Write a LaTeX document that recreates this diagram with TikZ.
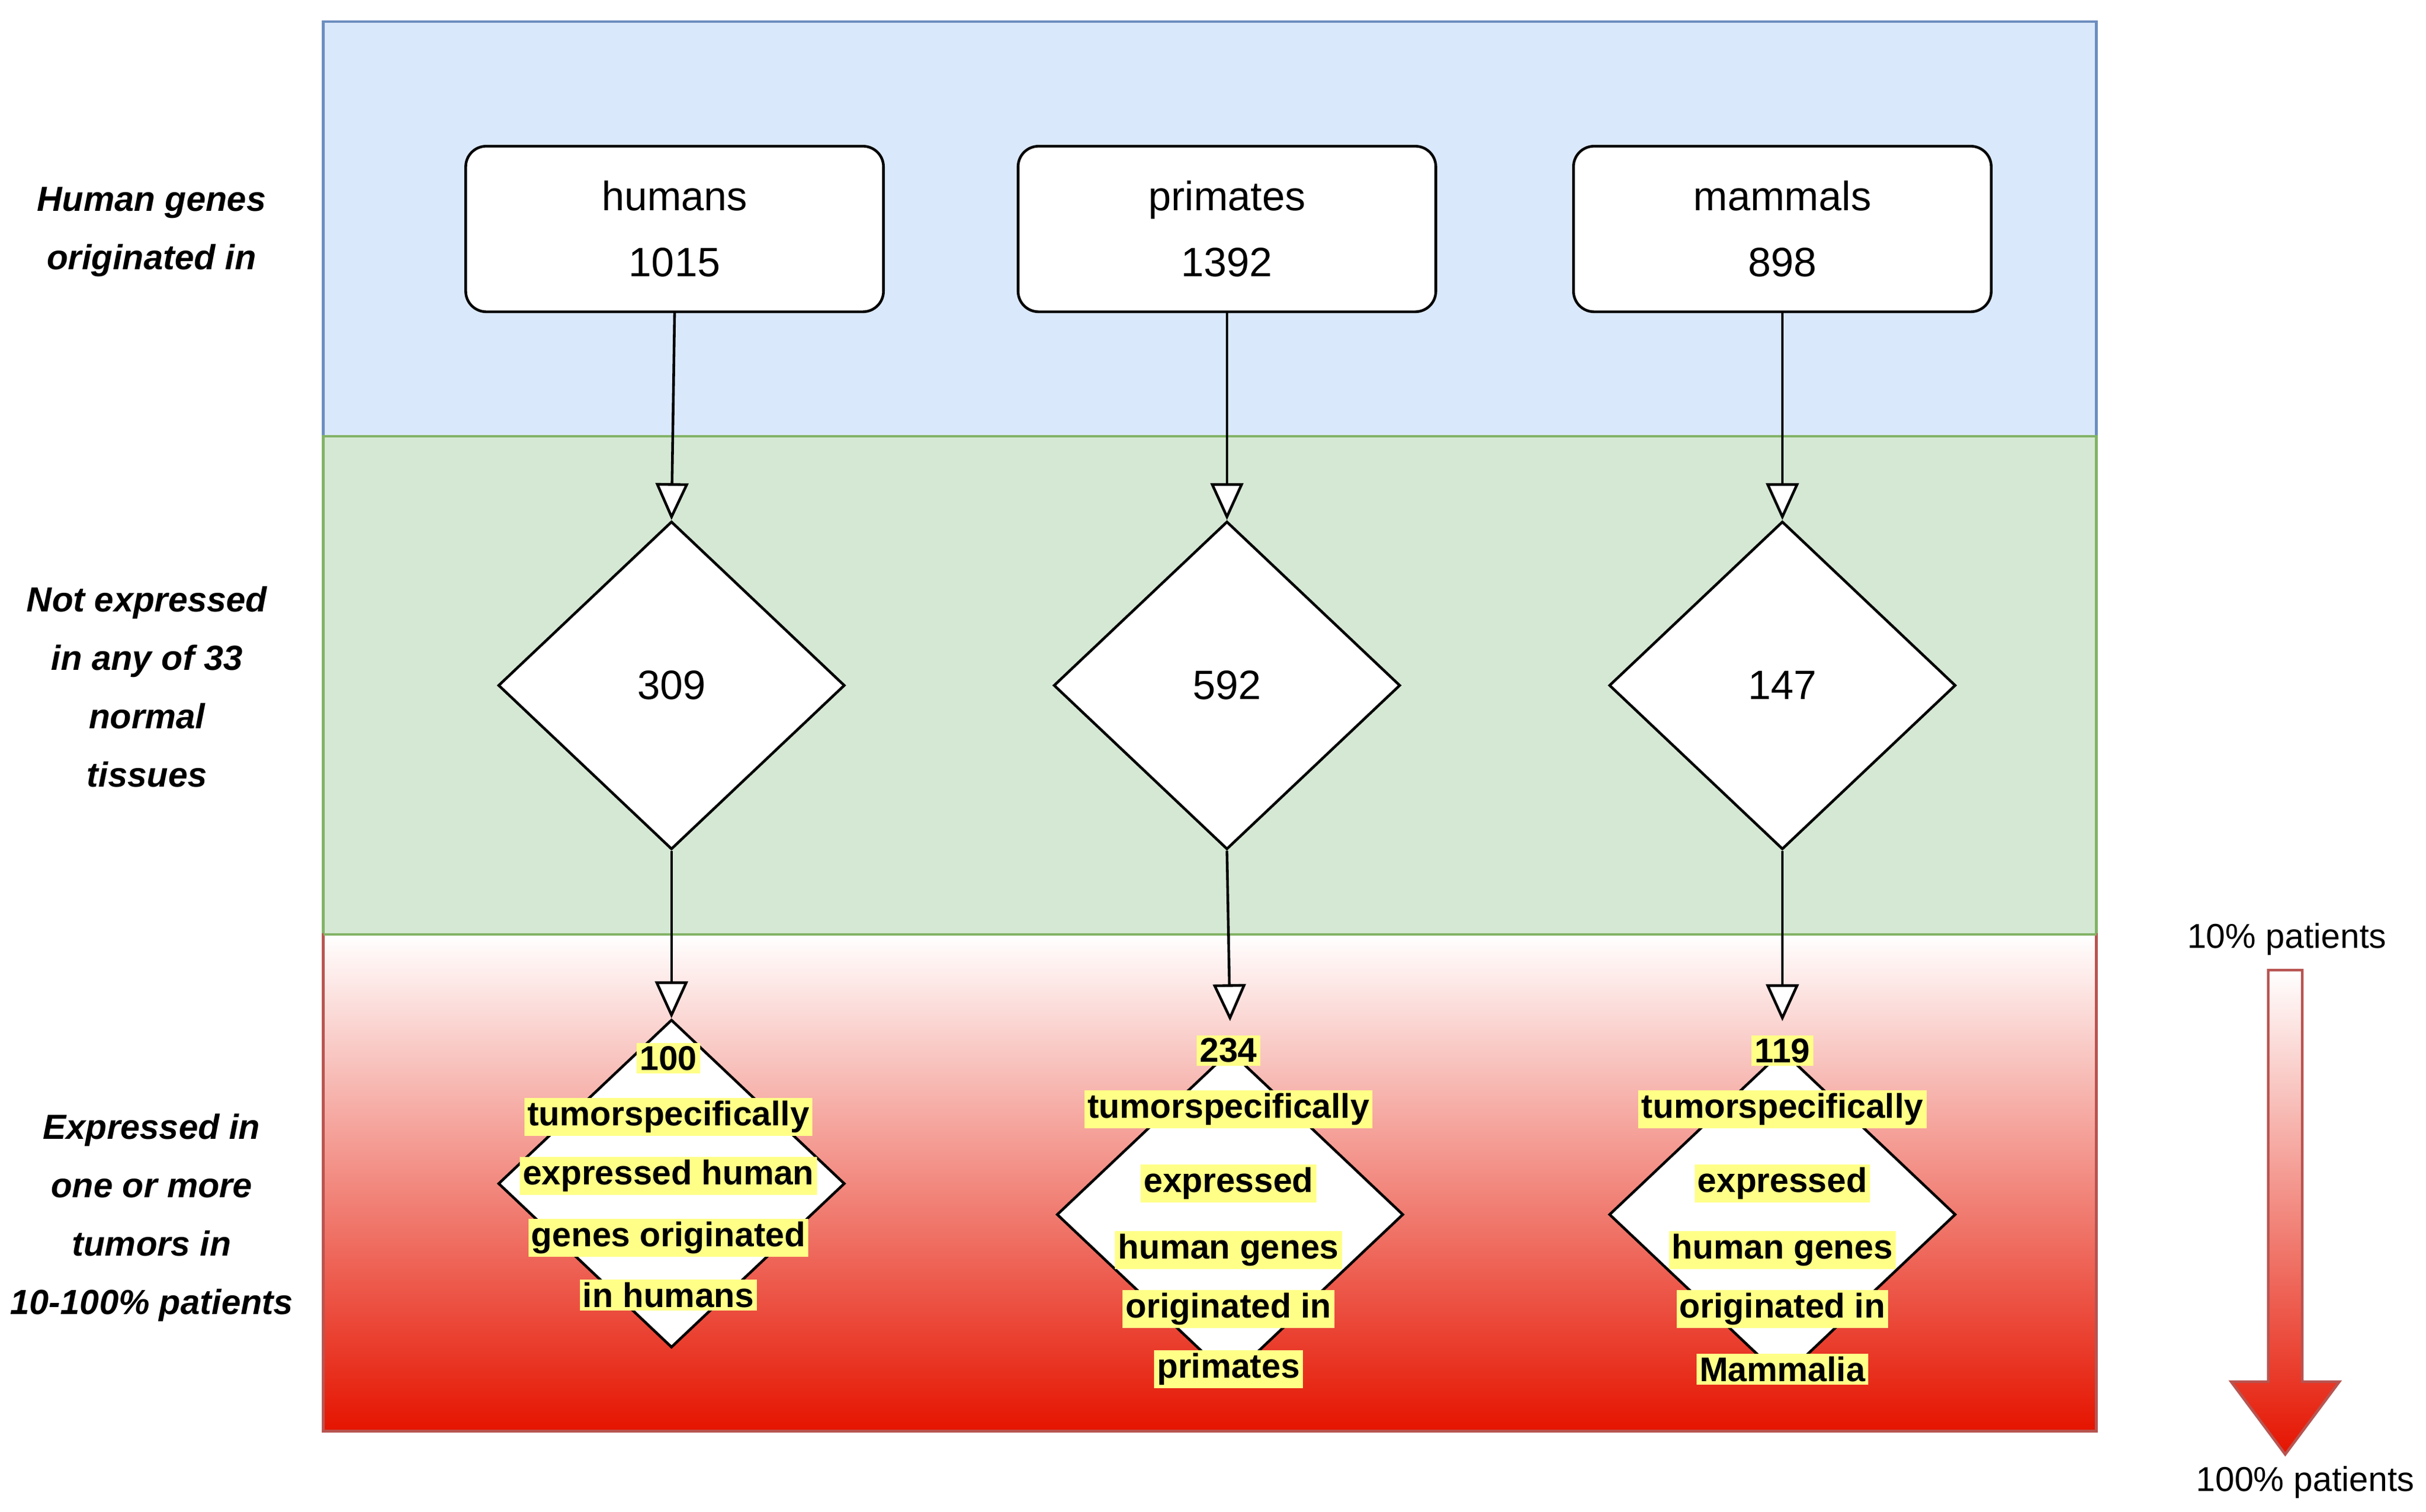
\documentclass[tikz,border=0pt]{standalone}
\usepackage{fontspec}
\setmainfont{Liberation Sans}
\usetikzlibrary{shapes.geometric,arrows.meta}
\definecolor{bandblue}{HTML}{DAE8FC}\definecolor{lineblue}{HTML}{6C8EBF}
\definecolor{bandgreen}{HTML}{D5E8D4}\definecolor{linegreen}{HTML}{82B366}
\definecolor{bandred}{HTML}{E51400}\definecolor{linered}{HTML}{B85450}
\definecolor{hl}{HTML}{FFFF88}
\tikzset{
 box/.style={draw,rounded corners=10pt,fill=white,line width=1.3pt,minimum width=270*0.0265cm,minimum height=107*0.0265cm,align=center,font=\fontsize{20}{32}\selectfont},
 dia/.style={draw,diamond,fill=white,line width=1.3pt,minimum width=224*0.0265cm,minimum height=212*0.0265cm,aspect=1.05,inner sep=0pt,font=\fontsize{20}{24}\selectfont},
 lbl/.style={fill=hl,inner sep=1.5pt,font=\bfseries\fontsize{16.7}{20}\selectfont},
 side/.style={align=center,font=\bfseries\itshape\fontsize{17}{28.5}\selectfont},
 arr/.style={line width=1.3pt,-{Triangle[open,fill=white,length=18pt,width=16pt]}},
}
\begin{document}
\begin{tikzpicture}[x=0.0265cm,y=-0.0265cm]
\useasboundingbox (0,0) rectangle (1568,977);
\fill[white] (0,0) rectangle (1568,977);
\filldraw[fill=bandblue,draw=lineblue,line width=1.3pt] (209,14) rectangle (1355,282);
\filldraw[fill=bandgreen,draw=linegreen,line width=1.3pt] (209,282) rectangle (1355,604);
\shade[top color=white,bottom color=bandred] (209,604) rectangle (1355,925);
\draw[linered,line width=1.3pt] (209,604) rectangle (1355,925);
\draw[linegreen,line width=1.3pt] (209,604) -- (1355,604);

\node[side] (s1) at (98,150) {Human genes\\originated in};
\node[side] (s2) at (95,444) {Not expressed\\in any of 33\\normal\\tissues};
\node[side] (s3) at (98,787) {Expressed in\\one or more\\tumors in\\10-100\% patients};

\node[box] (b1) at (436,148) {humans\\1015};
\node[box] (b2) at (793,148) {primates\\1392};
\node[box] (b3) at (1152,148) {mammals\\898};

\node[dia] (d1) at (434,443) {309};
\node[dia] (d2) at (793,443) {592};
\node[dia] (d3) at (1152,443) {147};

\node[dia] (e1) at (434,765) {};
\node[dia] (e2) at (795,785) {};
\node[dia] (e3) at (1152,785) {};

\draw[arr] (b1.south) -- (d1.north);
\draw[arr] (b2.south) -- (d2.north);
\draw[arr] (b3.south) -- (d3.north);
\draw[arr] (d1.south) -- (e1.north);
\draw[arr] (d2.south) -- (795,660);
\draw[arr] (d3.south) -- (1152,660);

\foreach \t/\y [count=\i] in {100/684,tumorspecifically/722,expressed human/760,genes originated/800,in humans/837}
  \node[lbl] (l1\i) at (432,\y) {\t};
\foreach \t/\y [count=\i] in {234/679,tumorspecifically/717,expressed/765,human genes/808,originated in/846,primates/885}
  \node[lbl] (l2\i) at (794,\y) {\t};
\foreach \t/\y [count=\i] in {119/679,tumorspecifically/717,expressed/765,human genes/808,originated in/846,Mammalia/885}
  \node[lbl] (l3\i) at (1152,\y) {\t};

\node[font=\fontsize{16.8}{20}\selectfont] (p1) at (1478,607) {10\% patients};
\node[font=\fontsize{16.8}{20}\selectfont] (p2) at (1490,958) {100\% patients};
\shade[top color=white,bottom color=bandred,draw=linered,line width=1.3pt]
  (1466,627) -- (1488,627) -- (1488,893) -- (1512,893) -- (1477,940) -- (1442,893) -- (1466,893) -- cycle;
\end{tikzpicture}
\end{document}
